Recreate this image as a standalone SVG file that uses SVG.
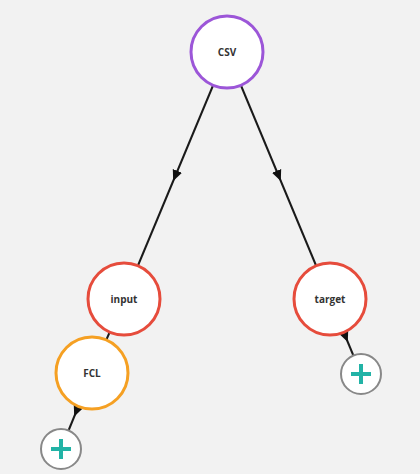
<svg xmlns="http://www.w3.org/2000/svg" width="420" height="474" viewBox="0 0 420 474">
<style>
.bg{fill:#f2f2f2}
.edge{fill:none;stroke:#1a1a1a;stroke-width:2;marker-mid:url(#arr)}
.plain{fill:none;stroke:#1a1a1a;stroke-width:2}
.node{fill:#fff;stroke-width:3}
.purple{stroke:#9c56d8}
.red{stroke:#e64c3c}
.orange{stroke:#f5a023}
.add{fill:#fff;stroke:#888;stroke-width:2}
.plus{stroke:#22b3a6;stroke-width:4;fill:none}
.lbl{font-family:"Open Sans","Liberation Sans",sans-serif;font-weight:bold;font-size:10px;fill:#333;text-anchor:middle;dominant-baseline:central}
</style>
<defs>
<marker id="arr" markerUnits="userSpaceOnUse" markerWidth="12" markerHeight="12" viewBox="0 -6 12 12" refX="5" refY="0" orient="auto">
<path d="M0,-5 L11,0 L0,5 z" fill="#111"/>
</marker>
</defs>
<rect class="bg" width="420" height="474"/>
<g id="connectors">
<path class="edge" d="M227,52 L175.5,175.5 L124,299"/>
<path class="edge" d="M227,52 L278.5,175.5 L330,299"/>
<path class="plain" d="M124,299 L92,373"/>
<path class="edge" d="M92,373 L76.5,411 L61,449"/>
<path class="edge" d="M330,299 L345.5,336.5 L361,374"/>
</g>
<g id="csv"><circle class="node purple" cx="227" cy="52" r="36"/><text class="lbl" x="227" y="52">CSV</text></g>
<g id="input"><circle class="node red" cx="124" cy="299" r="36"/><text class="lbl" x="124" y="299">input</text></g>
<g id="target"><circle class="node red" cx="330" cy="299" r="36"/><text class="lbl" x="330" y="299">target</text></g>
<g id="fcl"><circle class="node orange" cx="92" cy="373" r="36"/><text class="lbl" x="92" y="373">FCL</text></g>
<g id="add1"><circle class="add" cx="61" cy="449" r="20"/><path class="plus" d="M51,449 H71 M61,439 V459"/></g>
<g id="add2"><circle class="add" cx="361" cy="374" r="20"/><path class="plus" d="M351,374 H371 M361,364 V384"/></g>
</svg>
